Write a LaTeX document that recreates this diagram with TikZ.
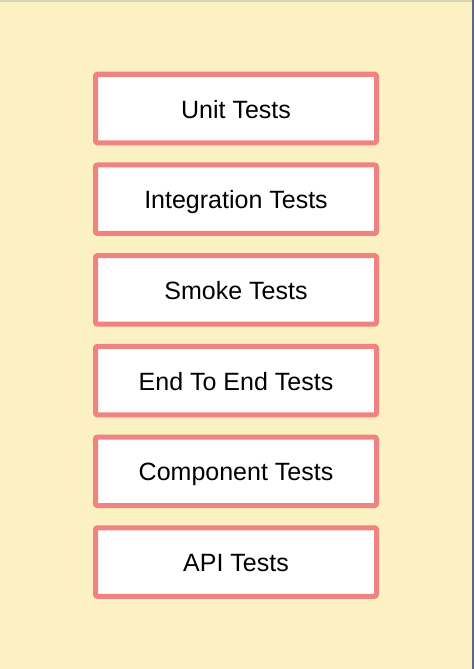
\documentclass[tikz,border=0pt]{standalone}
\usepackage{fontspec}
\setmainfont{Liberation Sans}
\usepackage{xcolor}
\usepackage{tikz}
\usetikzlibrary{positioning}
\definecolor{pagebg}{HTML}{FBF1C3}
\definecolor{testred}{HTML}{F08282}
\definecolor{edgeblue}{HTML}{5B6A8C}
\definecolor{edgegray}{HTML}{D8D6B8}
\tikzset{
    every node/.style={font=\fontsize{25}{30}\selectfont},
    testbox/.style={draw=testred, fill=white, line width=5pt, rounded corners=2pt,
        minimum width=281pt, minimum height=68.5pt, inner sep=0pt,
        text height=19pt, text depth=0pt}
}
\begin{document}
\begin{tikzpicture}[x=1pt,y=-1pt, node distance=17.2pt]
    % page background
    \fill[pagebg] (0,0) rectangle (474,669);
    \useasboundingbox (0,0) rectangle (474,669);
    \fill[edgegray] (0,0) rectangle (472,2);
    \fill[edgeblue] (472,0) rectangle (474,669);

    % the test boxes
    \node[testbox] (unit) at (236,108.5) {Unit Tests};
    \node[testbox, below=of unit] (integration) {Integration Tests};
    \node[testbox, below=of integration] (smoke) {Smoke Tests};
    \node[testbox, below=of smoke] (endtoend) {End To End Tests};
    \node[testbox, below=of endtoend] (component) {Component Tests};
    \node[testbox, below=of component] (api) {API Tests};
\end{tikzpicture}
\end{document}
